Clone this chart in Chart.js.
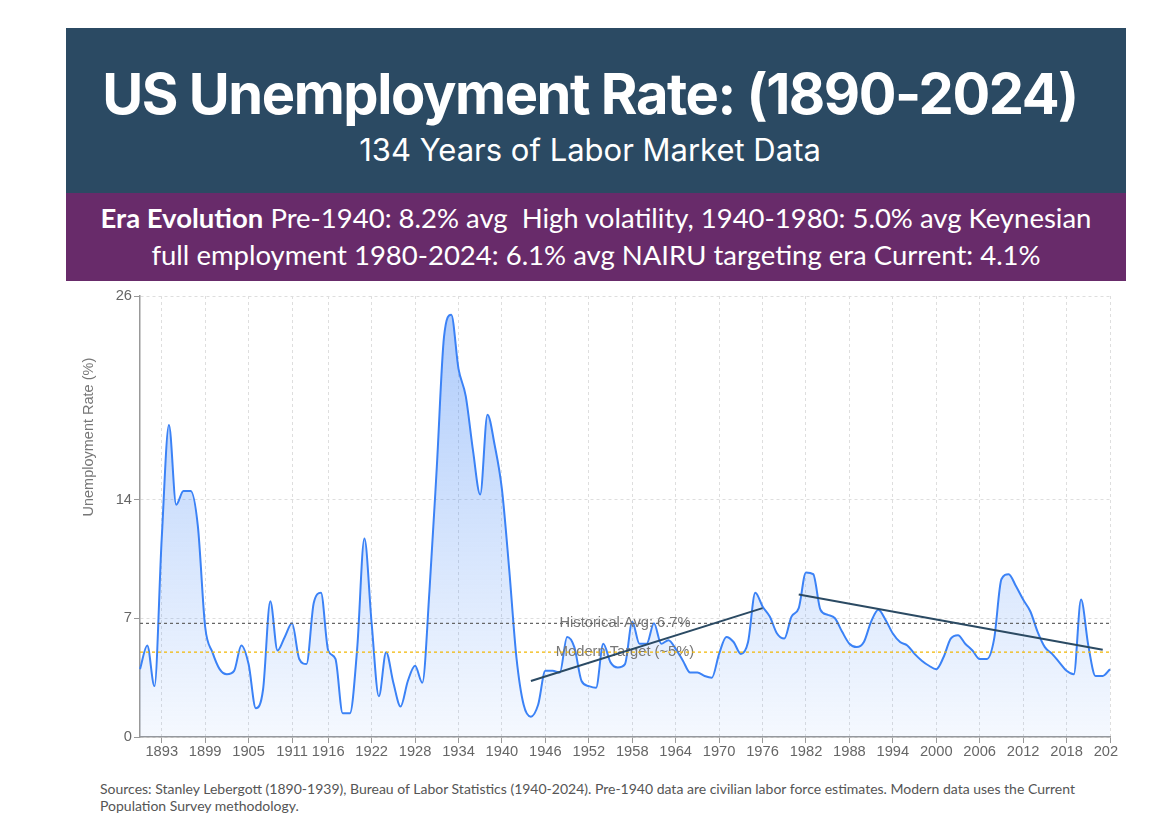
<!DOCTYPE html>
<html>
<head>
<meta charset="utf-8">
<title>US Unemployment Rate 1890-2024</title>
<script src="https://cdn.jsdelivr.net/npm/chart.js@4.4.1/dist/chart.umd.min.js"></script>
<style>
  html, body { margin: 0; padding: 0; background: #fff; }
  body { width: 1169px; height: 831px; position: relative; overflow: hidden; }
  .header { position: absolute; left: 66px; top: 28px; width: 1060px; height: 165px; background: #2b4a63; color: #fff; }
  .header h1 { position: absolute; left: 0; right: 12px; top: 38px; margin: 0; text-align: center;
    font: 700 56px/56px Inter, "Liberation Sans", sans-serif; letter-spacing: -1.45px; }
  .header h2 { position: absolute; left: 0; right: 12px; top: 106px; margin: 0; text-align: center;
    font: 400 31px/31px Inter, "Liberation Sans", sans-serif; letter-spacing: 0; }
  .era { position: absolute; left: 66px; top: 193px; width: 1060px; height: 88px; background: #682b6a; color: #fff;
    text-align: center; font: 400 27.5px/37px Lato, "Open Sans", sans-serif; white-space: nowrap; padding-top: 6px; box-sizing: border-box; }
  .era b { font-weight: 700; }
  #wrap { position: absolute; left: 66px; top: 281px; width: 1052px; height: 486px; overflow: hidden; }
  #box { position: relative; width: 1084px; height: 486px; }
  .foot { position: absolute; left: 100px; top: 780px; color: #555; font: 400 14px/17px Lato, "Open Sans", sans-serif; white-space: nowrap; }
</style>
</head>
<body>
<div class="header">
  <h1>US Unemployment Rate: (1890-2024)</h1>
  <h2>134 Years of Labor Market Data</h2>
</div>
<div class="era"><b>Era Evolution</b> Pre-1940: 8.2% avg&nbsp; High volatility, 1940-1980: 5.0% avg Keynesian<br>full employment 1980-2024: 6.1% avg NAIRU targeting era Current: 4.1%</div>
<div id="wrap"><div id="box"><canvas id="chart"></canvas></div></div>
<div class="foot">Sources: Stanley Lebergott (1890-1939), Bureau of Labor Statistics (1940-2024). Pre-1940 data are civilian labor force estimates. Modern data uses the Current<br>Population Survey methodology.</div>

<script>
// categories
const years = [
  1890, 1891, 1892, 1893, 1894, 1895, 1896, 1897, 1898, 1899,
  1900, 1901, 1902, 1903, 1904, 1905, 1906, 1907, 1908, 1909,
  1910, 1911, 1912, 1913, 1914, 1915, 1916, 1917, 1918, 1919,
  1920, 1921, 1922, 1923, 1924, 1925, 1926, 1927, 1928, 1929,
  1930, 1931, 1932, 1933, 1934, 1935, 1936, 1937, 1938, 1939,
  1940, 1941, 1942, 1943, 1944, 1945, 1946, 1947, 1948, 1949,
  1950, 1951, 1952, 1953, 1954, 1955, 1956, 1957, 1958, 1959,
  1960, 1961, 1962, 1963, 1964, 1965, 1966, 1967, 1968, 1969,
  1970, 1971, 1972, 1973, 1974, 1975, 1976, 1977, 1978, 1979,
  1980, 1981, 1982, 1983, 1984, 1985, 1986, 1987, 1988, 1989,
  1990, 1991, 1992, 1993, 1994, 1995, 1996, 1997, 1998, 1999,
  2000, 2001, 2002, 2003, 2004, 2005, 2006, 2007, 2008, 2009,
  2010, 2011, 2012, 2013, 2014, 2015, 2016, 2017, 2018, 2019,
  2020, 2021, 2022, 2023, 2024
];

// unemployment rate, % (one value per year above)
const unemploymentRate = [
  4.0, 5.4, 3.0, 11.7, 18.4, 13.7, 14.5, 14.5, 12.4, 6.5,
  5.0, 4.0, 3.7, 3.9, 5.4, 4.3, 1.7, 2.8, 8.0, 5.1,
  5.9, 6.7, 4.6, 4.3, 7.9, 8.5, 5.1, 4.6, 1.4, 1.4,
  5.2, 11.7, 6.7, 2.4, 5.0, 3.2, 1.8, 3.3, 4.2, 3.2,
  8.7, 15.9, 23.6, 24.9, 21.7, 20.1, 16.9, 14.3, 19.0, 17.2,
  14.6, 9.9, 4.7, 1.9, 1.2, 1.9, 3.9, 3.9, 3.8, 5.9,
  5.3, 3.3, 3.0, 2.9, 5.5, 4.4, 4.1, 4.3, 6.8, 5.5,
  5.5, 6.7, 5.5, 5.7, 5.2, 4.5, 3.8, 3.8, 3.6, 3.5,
  4.9, 5.9, 5.6, 4.9, 5.6, 8.5, 7.7, 7.1, 6.1, 5.8,
  7.1, 7.6, 9.7, 9.6, 7.5, 7.2, 7.0, 6.2, 5.5, 5.3,
  5.6, 6.8, 7.5, 6.9, 6.1, 5.6, 5.4, 4.9, 4.5, 4.2,
  4.0, 4.7, 5.8, 6.0, 5.5, 5.1, 4.6, 4.6, 5.8, 9.3,
  9.6, 8.9, 8.1, 7.4, 6.2, 5.3, 4.9, 4.4, 3.9, 3.7,
  8.1, 5.4, 3.6, 3.6, 4.0
];

// axis ticks as shown
const xTickYears = [1893, 1899, 1905, 1911, 1916, 1922, 1928, 1934, 1940, 1946, 1952, 1958,
  1964, 1970, 1976, 1982, 1988, 1994, 2000, 2006, 2012, 2018, 2024];
const yTicks = [0, 7, 14, 26];

// reference lines
const historicalAvg = 6.7;
const modernTarget = 5;

// trend segments (endpoints)
const trendEarlyYears = [1944, 1976];
const trendEarlyValues = [3.3, 7.6];
const trendLateYears = [1981, 2023];
const trendLateValues = [8.4, 5.15];

const tickFont = { family: '"Liberation Sans", Arial, sans-serif', size: 14.7 };
const NAVY = '#2b4a63';

function segment(yrs, vals) {
  return years.map(y => {
    const i = yrs.indexOf(y);
    return i >= 0 ? vals[i] : null;
  });
}

const refLabels = {
  id: 'refLabels',
  afterDatasetDraw(chart, args) {
    if (args.index !== chart.data.datasets.length - 1) return;
    const { ctx, chartArea, scales } = chart;
    const cx = (chartArea.left + chartArea.right) / 2;
    ctx.save();
    ctx.font = '14.7px "Liberation Sans", Arial, sans-serif';
    ctx.fillStyle = '#777';
    ctx.textAlign = 'center';
    ctx.textBaseline = 'middle';
    ctx.fillText('Historical Avg: 6.7%', cx, scales.y.getPixelForValue(historicalAvg));
    ctx.fillText('Modern Target (~5%)', cx, scales.y.getPixelForValue(modernTarget));
    ctx.restore();
  }
};

const yTitle = {
  id: 'yTitle',
  afterDraw(chart) {
    const { ctx, chartArea } = chart;
    ctx.save();
    ctx.translate(chartArea.left - 51, (chartArea.top + chartArea.bottom) / 2);
    ctx.rotate(-Math.PI / 2);
    ctx.font = '14.5px "Liberation Sans", Arial, sans-serif';
    ctx.fillStyle = '#777';
    ctx.textAlign = 'left';
    ctx.textBaseline = 'middle';
    ctx.fillText('Unemployment Rate (%)', 0, 0);
    ctx.restore();
  }
};

new Chart(document.getElementById('chart'), {
  type: 'line',
  data: {
    labels: years.map(String),
    datasets: [
      {
        data: segment(trendEarlyYears, trendEarlyValues),
        borderColor: NAVY, borderWidth: 2, pointRadius: 0, spanGaps: true, fill: false
      },
      {
        data: segment(trendLateYears, trendLateValues),
        borderColor: NAVY, borderWidth: 2, pointRadius: 0, spanGaps: true, fill: false
      },
      {
        data: years.map(() => historicalAvg),
        borderColor: '#666', borderWidth: 1.2, borderDash: [3, 3], pointRadius: 0, fill: false
      },
      {
        data: years.map(() => modernTarget),
        borderColor: '#f2b705', borderWidth: 1.2, borderDash: [3, 3], pointRadius: 0, fill: false
      },
      {
        label: 'Unemployment Rate',
        data: unemploymentRate,
        borderColor: '#3b82f6',
        borderWidth: 2,
        pointRadius: 0,
        cubicInterpolationMode: 'monotone',
        fill: 'origin',
        backgroundColor: (c) => {
          const area = c.chart.chartArea;
          if (!area) return 'rgba(59,130,246,0.2)';
          const g = c.chart.ctx.createLinearGradient(0, area.top, 0, area.bottom);
          g.addColorStop(0, 'rgba(59,130,246,0.42)');
          g.addColorStop(1, 'rgba(59,130,246,0.05)');
          return g;
        }
      }
    ]
  },
  options: {
    responsive: true,
    maintainAspectRatio: false,
    animation: false,
    layout: { padding: { left: 14, right: 40, top: 15, bottom: 0 } },
    plugins: { legend: { display: false }, tooltip: { enabled: false } },
    scales: {
      x: {
        type: 'category',
        afterBuildTicks: (s) => { s.ticks = xTickYears.map(y => ({ value: years.indexOf(y) })); },
        afterFit: (s) => { s.height = 30; },
        ticks: { autoSkip: false, maxRotation: 0, color: '#666', font: tickFont, padding: 0 },
        grid: { color: '#dedede', tickColor: '#999', tickLength: 6 },
        border: { color: '#999', width: 1.5, dash: [3, 3] }
      },
      y: {
        min: 0,
        max: 26,
        afterBuildTicks: (s) => { s.ticks = yTicks.map(v => ({ value: v })); },
        afterFit: (s) => { s.width = 60; },
        ticks: { color: '#666', font: tickFont, padding: 2 },
        grid: { color: '#dedede', tickColor: '#999', tickLength: 6 },
        border: { color: '#999', width: 1.5, dash: [3, 3] }
      }
    }
  },
  plugins: [refLabels, yTitle]
});
</script>
</body>
</html>
